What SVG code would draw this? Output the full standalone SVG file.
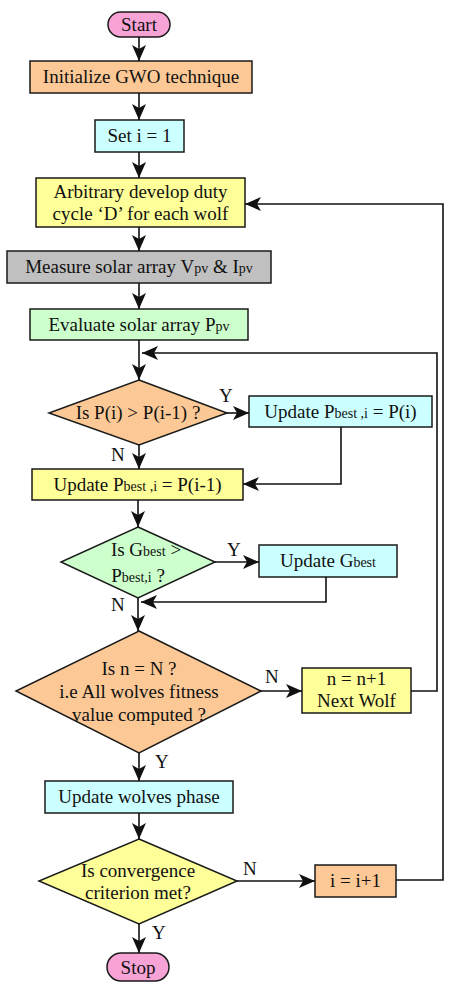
<svg xmlns="http://www.w3.org/2000/svg" width="474" height="994" viewBox="0 0 474 994">
<style>
text{font-family:"Liberation Serif","Times New Roman",serif;font-size:19px;fill:#111;text-anchor:middle}
.s{stroke:#1a1a1a;stroke-width:1.5}
.pink{fill:#f7a3d6}.org{fill:#fcc996}.cyan{fill:#ccffff}.yel{fill:#ffff99}.gray{fill:#c0c0c0}.grn{fill:#ccffcc}
.c{fill:none;stroke:#111;stroke-width:1.6}
.sub{font-size:14px}
.lbl{text-anchor:start}
</style>
<defs>
<marker id="ah" markerUnits="userSpaceOnUse" viewBox="0 0 16 14" markerWidth="16" markerHeight="14" refX="16" refY="7" orient="auto">
<path d="M0,0 L16,7 L0,14 L4,7 z" fill="#111"/>
</marker>
</defs>
<rect width="474" height="994" fill="#fff"/>
<g id="start"><rect class="s pink" x="108" y="12" width="62" height="25" rx="12.5"/><text x="139" y="31">Start</text></g>
<g id="init"><rect class="s org" x="30" y="61" width="222" height="32"/><text x="141" y="83">Initialize GWO technique</text></g>
<g id="seti"><rect class="s cyan" x="95" y="120" width="89" height="32"/><text x="139.5" y="142">Set i = 1</text></g>
<g id="arb"><rect class="s yel" x="36" y="178" width="209" height="49"/><text x="140.5" y="198">Arbitrary develop duty</text><text x="140.5" y="220">cycle ‘D’ for each wolf</text></g>
<g id="measure"><rect class="s gray" x="7" y="251" width="264" height="32"/><text x="139" y="273">Measure solar array V<tspan class="sub">pv</tspan> &amp; I<tspan class="sub">pv</tspan></text></g>
<g id="eval"><rect class="s grn" x="30" y="309" width="218" height="31"/><text x="139" y="331">Evaluate solar array P<tspan class="sub">pv</tspan></text></g>
<g id="d1"><polygon class="s org" points="139,380 227,413 139,445 49,413"/><text x="138" y="419">Is P(i) &gt; P(i-1) ?</text></g>
<g id="upd1"><rect class="s cyan" x="249" y="396" width="183" height="31"/><text x="340.5" y="418">Update P<tspan class="sub">best ,i</tspan> = P(i)</text></g>
<g id="upd2"><rect class="s yel" x="32" y="469" width="211" height="31"/><text x="137.5" y="491">Update P<tspan class="sub">best ,i</tspan> = P(i-1)</text></g>
<g id="d2"><polygon class="s grn" points="138,527 215,562 138,598 61,562"/><text x="146" y="556">Is G<tspan class="sub">best</tspan> &gt;</text><text x="138" y="582">P<tspan class="sub">best,i</tspan> ?</text></g>
<g id="updg"><rect class="s cyan" x="259" y="545" width="138" height="32"/><text x="328" y="567">Update G<tspan class="sub">best</tspan></text></g>
<g id="d3"><polygon class="s org" points="139,631 261,691 139,753 16,691"/><text x="139" y="675">Is n = N ?</text><text x="139" y="698">i.e All wolves fitness</text><text x="139" y="721">value computed ?</text></g>
<g id="next"><rect class="s yel" x="302" y="668" width="109" height="45"/><text x="356.5" y="685">n = n+1</text><text x="356.5" y="707">Next Wolf</text></g>
<g id="phase"><rect class="s cyan" x="45" y="781" width="188" height="32"/><text x="139" y="803">Update wolves phase</text></g>
<g id="d4"><polygon class="s yel" points="139,839 237,881 139,924 39,881"/><text x="138" y="877">Is convergence</text><text x="138" y="899">criterion met?</text></g>
<g id="inc"><rect class="s org" x="315" y="865" width="81" height="32"/><text x="355.5" y="887">i = i+1</text></g>
<g id="stop"><rect class="s pink" x="107" y="953" width="62" height="28" rx="14"/><text x="138" y="974">Stop</text></g>
<g id="connectors">
<path class="c" marker-end="url(#ah)" d="M139,37 V61"/>
<path class="c" marker-end="url(#ah)" d="M139,93 V120"/>
<path class="c" marker-end="url(#ah)" d="M139,152 V178"/>
<path class="c" marker-end="url(#ah)" d="M139,227 V251"/>
<path class="c" marker-end="url(#ah)" d="M139,283 V309"/>
<path class="c" marker-end="url(#ah)" d="M139,340 V380"/>
<path class="c" marker-end="url(#ah)" d="M227,413 H249"/>
<path class="c" marker-end="url(#ah)" d="M139,445 V469"/>
<path class="c" marker-end="url(#ah)" d="M341,427 V484 H243"/>
<path class="c" marker-end="url(#ah)" d="M138,500 V527"/>
<path class="c" marker-end="url(#ah)" d="M215,562 H259"/>
<path class="c" marker-end="url(#ah)" d="M326,577 V602 H141"/>
<path class="c" marker-end="url(#ah)" d="M138,598 V631"/>
<path class="c" marker-end="url(#ah)" d="M261,691 H302"/>
<path class="c" marker-end="url(#ah)" d="M411,691 H437 V353 H142"/>
<path class="c" marker-end="url(#ah)" d="M139,753 V781"/>
<path class="c" marker-end="url(#ah)" d="M139,813 V839"/>
<path class="c" marker-end="url(#ah)" d="M237,881 H315"/>
<path class="c" marker-end="url(#ah)" d="M396,880 H443 V204 H245"/>
<path class="c" marker-end="url(#ah)" d="M139,924 V953"/>
<text class="lbl" x="219" y="402">Y</text>
<text class="lbl" x="111" y="461">N</text>
<text class="lbl" x="227" y="556">Y</text>
<text class="lbl" x="111" y="611">N</text>
<text class="lbl" x="265" y="683">N</text>
<text class="lbl" x="155" y="768">Y</text>
<text class="lbl" x="243" y="875">N</text>
<text class="lbl" x="152" y="939">Y</text>
</g>
</svg>
